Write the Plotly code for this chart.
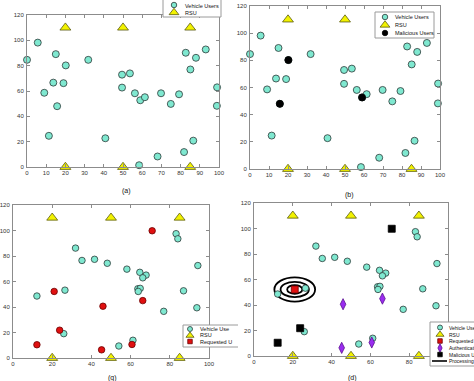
import plotly.graph_objects as go

# ---------------- data ----------------
# panels (a) and (b)
veh_ab_x = [0, 5.6, 9.0, 11.4, 13.7, 15.0, 15.7, 19.0, 20.2, 31.9, 40.8, 49.5, 49.5, 53.6, 56.2,
            59.0, 58.4, 61.4, 68.0, 69.8, 74.9, 79.2, 81.8, 82.7, 85.1, 86.6, 88.0, 93.1, 99.0, 98.9]
veh_ab_y = [84.6, 98.2, 58.6, 24.6, 66.6, 89.1, 48.0, 66.2, 80.2, 84.6, 22.7, 72.9, 62.7, 73.9, 58.2,
            52.7, 1.4, 55.1, 8.3, 58.2, 49.8, 57.4, 11.8, 90.2, 77.0, 20.8, 86.2, 92.8, 62.9, 48.3]
mal_ab_x = [20.2, 15.7, 59.0]
mal_ab_y = [80.2, 48.0, 52.7]
rsu_x = [20, 50, 85, 20, 50, 85]
rsu_y = [110, 110, 110, 0, 0, 0]

# panels (c) and (d)
veh_cd_x = [12.2, 26.5, 25.9, 31.9, 35.2, 41.6, 48.1, 58.1, 64.7, 67.9, 66.2, 63.7, 64.9, 63.9,
            76.9, 83.2, 84.1, 94.3, 87.0, 93.8, 61.2, 54.0]
veh_cd_y = [48.6, 53.2, 19.1, 86.2, 76.5, 77.4, 74.3, 69.7, 67.2, 65.0, 62.9, 54.3, 54.6, 52.2,
            36.6, 97.5, 93.5, 72.5, 52.7, 39.4, 13.9, 9.4]
req_x = [21.0]
req_y = [52.2]
auth_x = [45.9, 66.2, 45.2, 60.7]
auth_y = [40.6, 45.0, 6.4, 10.6]
mal_cd_x = [71.0, 23.8, 12.2]
mal_cd_y = [99.8, 21.8, 10.4]
proc_rx = [3.9, 7.3, 10.5]
proc_ry = [3.4, 6.0, 9.5]

x_ticks_ab = list(range(0, 101, 10))
x_ticks_cd = list(range(0, 101, 20))
x_ticktext_d = ['0', '20', '40', '60', '80', '']   # "100" is hidden under the legend in (d)
y_ticks = list(range(0, 121, 20))

# ---------------- layout helpers ----------------
W, H = 474, 381


def px_dom_x(a, b):
    return [a / W, b / W]


def px_dom_y(top, bottom):
    return [1 - bottom / H, 1 - top / H]


CYAN = '#7fe8d0'
CYAN_EDGE = '#2d3a38'
YEL = '#f2f200'
YEL_EDGE = '#5a5a10'
RED = '#e01010'
RED_EDGE = '#6a0000'
PURP = '#9a2cf0'
AX = '#8c8c8c'
TXT = '#333333'
FONT = 'Liberation Sans, Arial, sans-serif'

fig = go.Figure()


def vehicles(x, y, xa, ya, size=7):
    fig.add_trace(go.Scatter(x=x, y=y, mode='markers', xaxis=xa, yaxis=ya, cliponaxis=False,
                             marker=dict(symbol='circle', size=size, color=CYAN,
                                         line=dict(color=CYAN_EDGE, width=0.8)),
                             showlegend=False, name='Vehicle Users'))


def rsus(xa, ya, size=9.5):
    fig.add_trace(go.Scatter(x=rsu_x, y=rsu_y, mode='markers', xaxis=xa, yaxis=ya, cliponaxis=False,
                             marker=dict(symbol='triangle-up', size=size, color=YEL,
                                         line=dict(color=YEL_EDGE, width=0.8)),
                             showlegend=False, name='RSU'))


# panel (a)
vehicles(veh_ab_x, veh_ab_y, 'x', 'y')
rsus('x', 'y')
# panel (b)
vehicles(veh_ab_x, veh_ab_y, 'x2', 'y2')
rsus('x2', 'y2')
fig.add_trace(go.Scatter(x=mal_ab_x, y=mal_ab_y, mode='markers', xaxis='x2', yaxis='y2',
                         marker=dict(symbol='circle', size=7, color='black',
                                     line=dict(color='black', width=0.8)),
                         showlegend=False, name='Malicious Users'))
# panel (c)
vehicles(veh_cd_x, veh_cd_y, 'x3', 'y3', size=6.5)
rsus('x3', 'y3')
fig.add_trace(go.Scatter(x=req_x + auth_x + mal_cd_x, y=req_y + auth_y + mal_cd_y, mode='markers',
                         xaxis='x3', yaxis='y3',
                         marker=dict(symbol='circle', size=6.5, color=RED,
                                     line=dict(color=RED_EDGE, width=0.8)),
                         showlegend=False, name='Requested Users'))
# panel (d)
for rx, ry in zip(proc_rx, proc_ry):
    fig.add_shape(type='circle', xref='x4', yref='y4', layer='below',
                  x0=req_x[0] - rx, x1=req_x[0] + rx, y0=req_y[0] - ry, y1=req_y[0] + ry,
                  line=dict(color='black', width=1.8))
vehicles(veh_cd_x, veh_cd_y, 'x4', 'y4', size=6.5)
rsus('x4', 'y4')
fig.add_trace(go.Scatter(x=req_x, y=req_y, mode='markers', xaxis='x4', yaxis='y4',
                         marker=dict(symbol='square', size=7, color=RED,
                                     line=dict(color=RED_EDGE, width=0.8)),
                         showlegend=False, name='Requested User'))
fig.add_trace(go.Scatter(x=auth_x, y=auth_y, mode='markers', xaxis='x4', yaxis='y4',
                         marker=dict(symbol='diamond-tall', size=8, color=PURP,
                                     line=dict(color='#5a1090', width=0.8)),
                         showlegend=False, name='Authenticated Users'))
fig.add_trace(go.Scatter(x=mal_cd_x, y=mal_cd_y, mode='markers', xaxis='x4', yaxis='y4',
                         marker=dict(symbol='square', size=7, color='black',
                                     line=dict(color='black', width=0.8)),
                         showlegend=False, name='Malicious Users'))

# ---------------- compact legends (drawn on a full-page pixel overlay) ----------------
OV = dict(xaxis='x5', yaxis='y5', showlegend=False, hoverinfo='skip', cliponaxis=False)


def legend_box(x0, x1, y0, y1, right_border=True):
    xs = [x1, x0, x0, x1] + ([x1] if right_border else [])
    ys = [y0, y0, y1, y1] + ([y0] if right_border else [])
    fig.add_trace(go.Scatter(x=xs, y=ys, mode='lines', fill='toself', fillcolor='white',
                             line=dict(color='#9a9a9a', width=1), **OV))


def legend_sym(x, y, symbol, size, color, edge):
    fig.add_trace(go.Scatter(x=[x], y=[y], mode='markers',
                             marker=dict(symbol=symbol, size=size, color=color,
                                         line=dict(color=edge, width=0.8)), **OV))


def legend_text(x, y, text, size=5.5):
    fig.add_annotation(x=x, y=y, xref='x5', yref='y5', text=text, showarrow=False, borderpad=0,
                       xanchor='left', yanchor='middle', font=dict(size=size, color='#111', family=FONT))


# legend (a)
legend_box(163, 221, -6, 17)
legend_sym(174, 5, 'circle', 5.5, CYAN, CYAN_EDGE)
legend_sym(174, 12.5, 'triangle-up', 8.5, YEL, YEL_EDGE)
legend_text(184, 5.5, 'Vehicle Users')
legend_text(184, 13, 'RSU')
# legend (b)
legend_box(375, 434, 12, 38)
legend_sym(385, 17, 'circle', 5.5, CYAN, CYAN_EDGE)
legend_sym(385, 25, 'triangle-up', 8.5, YEL, YEL_EDGE)
legend_sym(385, 33, 'circle', 5.5, 'black', 'black')
legend_text(394, 17, 'Vehicle Users')
legend_text(394, 25, 'RSU')
legend_text(394, 33, 'Malicious Users')
# legend (c)
legend_box(183, 238, 325, 347, right_border=False)
legend_sym(190, 329, 'circle', 5, CYAN, CYAN_EDGE)
legend_sym(190, 335.5, 'triangle-up', 7, YEL, YEL_EDGE)
legend_sym(190, 341.5, 'square', 4.5, RED, RED_EDGE)
legend_text(199, 329, 'Vehicle Use')
legend_text(199, 335, 'RSU')
legend_text(199, 341.5, 'Requested U')
# legend (d)
legend_box(430, 480, 322, 366, right_border=False)
legend_sym(440, 327.5, 'circle', 5, CYAN, CYAN_EDGE)
legend_sym(440, 334.5, 'triangle-up', 7, YEL, YEL_EDGE)
legend_sym(440, 341, 'square', 4.5, RED, RED_EDGE)
legend_sym(440, 348, 'diamond-tall', 6, PURP, '#5a1090')
legend_sym(440, 354.5, 'square', 4.5, 'black', 'black')
fig.add_trace(go.Scatter(x=[432, 447], y=[361, 361], mode='lines',
                         line=dict(color='black', width=1.6), **OV))
for yy, lbl in [(327.5, 'Vehicle Users'), (334.5, 'RSU'), (341, 'Requested User'),
                (348, 'Authenticated Users'), (354.5, 'Malicious Users'), (361, 'Processing Area')]:
    legend_text(448, yy, lbl, size=5)

# captions
for cx, cy, cap in [(126, 191, '(a)'), (349, 195, '(b)'), (112, 378, '(g)'), (352, 378, '(d)')]:
    fig.add_annotation(x=cx, y=cy, xref='x5', yref='y5', text=cap, showarrow=False,
                       xanchor='center', yanchor='middle',
                       font=dict(size=7, color='#111', family=FONT))

# ---------------- axes ----------------
axis_common = dict(showgrid=False, zeroline=False, showline=True, linecolor=AX, linewidth=1,
                   mirror='ticks', ticks='inside', ticklen=3, tickcolor=AX, tickwidth=1,
                   tickfont=dict(size=6, color=TXT, family=FONT), fixedrange=True)

panels = {
    '': (px_dom_x(27, 219), px_dom_y(15, 167), x_ticks_ab, None),
    '2': (px_dom_x(250, 440), px_dom_y(6, 169), x_ticks_ab, None),
    '3': (px_dom_x(13, 209), px_dom_y(205, 358), x_ticks_cd, None),
    '4': (px_dom_x(254, 448), px_dom_y(203, 356), x_ticks_cd, x_ticktext_d),
}
lay = {}
for k, (dx, dy, xt, xtt) in panels.items():
    xa = dict(domain=dx, range=[0, 100], tickvals=xt, anchor='y' + k, **axis_common)
    if xtt is not None:
        xa['ticktext'] = xtt
    lay['xaxis' + k] = xa
    lay['yaxis' + k] = dict(domain=dy, range=[0, 120], tickvals=y_ticks, anchor='x' + k,
                            ticklabelstandoff=1, **axis_common)
lay['xaxis5'] = dict(domain=[0, 1], range=[0, W], visible=False, anchor='y5', fixedrange=True)
lay['yaxis5'] = dict(domain=[0, 1], range=[H, 0], visible=False, anchor='x5', fixedrange=True)

fig.update_layout(width=W, height=H, margin=dict(l=0, r=0, t=0, b=0, autoexpand=False),
                  paper_bgcolor='white', plot_bgcolor='rgba(0,0,0,0)', showlegend=False,
                  font=dict(family=FONT), **lay)

fig.write_html('out.html', config={'displayModeBar': False},
               post_script="document.body.style.margin='0';document.body.style.overflow='hidden';")
